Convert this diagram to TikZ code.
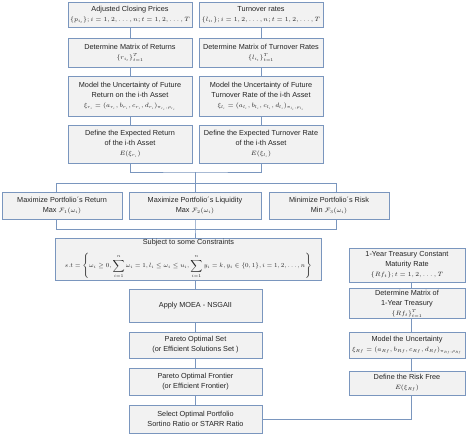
\documentclass[tikz,border=0pt]{standalone}
\usepackage{fix-cm}
\usepackage{graphicx}
\usepackage{fontspec}
\setmainfont{Liberation Sans}
\usetikzlibrary{positioning}
\definecolor{frame}{RGB}{122,150,190}
\definecolor{paper}{RGB}{242,242,242}
\definecolor{ink}{RGB}{35,35,35}
\tikzset{
  box/.style={draw=frame,fill=paper,line width=0.8pt,align=center,text=ink,
    font=\fontsize{7.3}{10}\selectfont,inner sep=1pt,minimum width=#1},
  box/.default=124pt,
  link/.style={draw=frame,line width=0.8pt},
}
\newcommand{\fm}[1]{{\fontsize{6.2}{9}\selectfont$#1$}}

\begin{document}
\begin{tikzpicture}[x=1pt,y=-1pt]
  \useasboundingbox[fill=white] (0,0) rectangle (474,437);
  % asset prices / returns column
  \node[box,minimum height=25pt] (prices) at (130,14.5) {Adjusted Closing Prices\\\fm{\{p_{i_t}\}; i=1,2,\ldots,n; t=1,2,\ldots,T}};
  \node[box,minimum height=29pt] (retmat) at (130,52.5) {Determine Matrix of Returns\\\fm{\{r_{i_t}\}_{t=1}^{T}}};
  \node[box,minimum height=40pt] (retfuz) at (130,96) {Model the Uncertainty of Future\\Return on the i-th Asset\\\fm{\xi_{r_i}=(a_{r_i},b_{r_i},c_{r_i},d_{r_i})_{\pi_{r_i},\rho_{r_i}}}};
  \node[box,minimum height=38pt] (retexp) at (130,144) {Define the Expected Return\\of the i-th Asset\\\fm{E(\xi_{r_i})}};
  % turnover column
  \node[box,minimum height=25pt] (turn) at (261,14.5) {Turnover rates\\\fm{\{l_{i_t}\}; i=1,2,\ldots,n; t=1,2,\ldots,T}};
  \node[box,minimum height=29pt] (turnmat) at (261,52.5) {Determine Matrix of Turnover Rates\\\fm{\{l_{i_t}\}_{t=1}^{T}}};
  \node[box,minimum height=40pt] (turnfuz) at (261,96) {Model the Uncertainty of Future\\Turnover Rate of the i-th Asset\\\fm{\xi_{l_i}=(a_{l_i},b_{l_i},c_{l_i},d_{l_i})_{\pi_{l_i},\rho_{l_i}}}};
  \node[box,minimum height=38pt] (turnexp) at (261,144) {Define the Expected Turnover Rate\\of the i-th Asset\\\fm{E(\xi_{l_i})}};
  % objectives
  \node[box=120pt,minimum height=27pt] (objret) at (62,205.5) {Maximize Portfolio´s Return\\Max \fm{\mathcal{F}_1(\omega_i)}};
  \node[box=132pt,minimum height=27pt] (objliq) at (195,205.5) {Maximize Portfolio´s Liquidity\\Max \fm{\mathcal{F}_2(\omega_i)}};
  \node[box=120pt,minimum height=27pt] (objrisk) at (329,205.5) {Minimize Portfolio´s Risk\\Min \fm{\mathcal{F}_3(\omega_i)}};
  \node[box=266pt,minimum height=42pt] (cons) at (188.5,259) {Subject to some Constraints\\[6pt]\resizebox{247pt}{!}{$\displaystyle s.t=\left\{\omega_i\geq 0,\sum_{i=1}^{n}\omega_i=1, l_i\leq\omega_i\leq u_i,\sum_{i=1}^{n}y_i=k, y_i\in\{0,1\}, i=1,2,\ldots,n\right\}$}};
  % optimisation chain
  \node[box=133pt,minimum height=33pt] (moea) at (195.5,305.5) {Apply MOEA - NSGAII};
  \node[box=133pt,minimum height=26pt] (pset) at (195.5,345) {Pareto Optimal Set\\(or Efficient Solutions Set )};
  \node[box=133pt,minimum height=27pt] (pfront) at (195.5,381.5) {Pareto Optimal Frontier\\(or Efficient Frontier)};
  \node[box=133pt,minimum height=28pt] (select) at (195.5,419) {Select Optimal Portfolio\\Sortino Ratio or STARR Ratio};
  % treasury column
  \node[box=116pt,minimum height=34pt] (tbill) at (407,265) {1-Year Treasury Constant\\Maturity Rate\\\fm{\{Rf_t\}; t=1,2,\ldots,T}};
  \node[box=116pt,minimum height=29pt] (tbmat) at (407,303.5) {Determine Matrix of\\1-Year Treasury\\\fm{\{Rf_t\}_{t=1}^{T}}};
  \node[box=116pt,minimum height=26pt] (tbfuz) at (407,345) {Model the Uncertainty\\\fm{\xi_{Rf}=(a_{Rf},b_{Rf},c_{Rf},d_{Rf})_{\pi_{Rf},\rho_{Rf}}}};
  \node[box=116pt,minimum height=24pt] (rfree) at (407,383) {Define the Risk Free\\\fm{E(\xi_{Rf})}};

  \coordinate (mid) at (195,172);
  \coordinate (fanl) at (56,183);  \coordinate (fanm) at (195,183);  \coordinate (fanr) at (336,183);
  \coordinate (joinl) at (56,229); \coordinate (joinm) at (195,229); \coordinate (joinr) at (336,229);

  \foreach \a/\b in {prices/retmat,retmat/retfuz,retfuz/retexp,turn/turnmat,turnmat/turnfuz,turnfuz/turnexp,moea/pset,pset/pfront,pfront/select}
    \draw[link] (\a) -- (\b);
  \foreach \a/\b in {tbill/tbmat,tbmat/tbfuz,tbfuz/rfree}
    \draw[link] ([xshift=4pt]\a.south) -- ([xshift=4pt]\b.north);
  \draw[link] (retexp.south) |- (mid) -| (turnexp.south);
  \draw[link] (mid) -- (fanm);
  \draw[link] (fanl) -- (fanr);
  \draw[link] (fanl) -- (fanl |- objret.north);
  \draw[link] (fanm) -- (objliq.north);
  \draw[link] (fanr) -- (fanr |- objrisk.north);
  \draw[link] (fanl |- objret.south) -- (joinl) -- (joinr) -- (fanr |- objrisk.south);
  \draw[link] (objliq.south) -- (joinm) -- (joinm |- cons.north);
  \draw[link] (joinm |- cons.south) -- (moea.north -| joinm);
  \draw[link] (select.east) -| ([xshift=4pt]rfree.south);
\end{tikzpicture}
\end{document}
